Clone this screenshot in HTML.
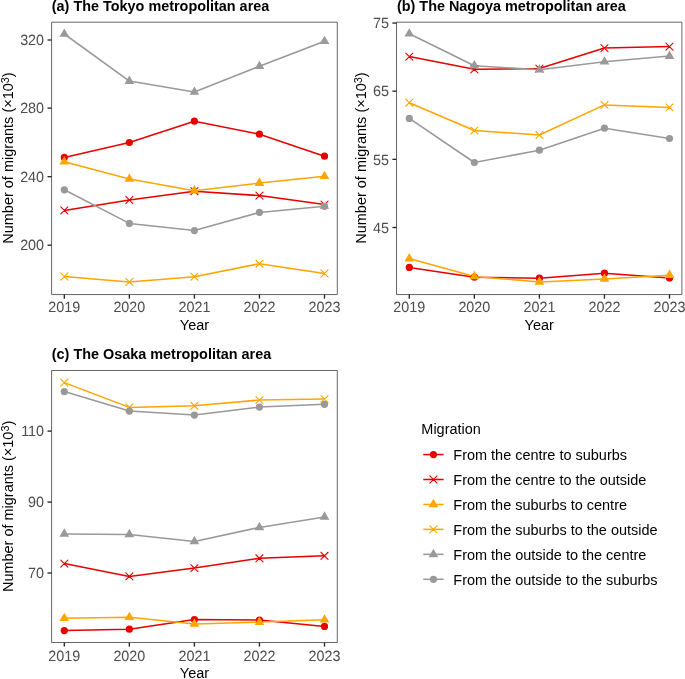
<!DOCTYPE html>
<html lang="en"><head><meta charset="utf-8"><title>Migration flows by metropolitan area</title>
<style>html,body{margin:0;padding:0;background:#fff}svg{display:block}text{font-family:"Liberation Sans",Arial,Helvetica,sans-serif}.tk{text-rendering:geometricPrecision}</style></head><body>
<svg width="685" height="679" viewBox="0 0 685 679">
<rect width="685" height="679" fill="#fff"/>
<g id="panel-a">
<polyline points="64.30,157.40 129.35,142.50 194.40,121.20 259.45,134.20 324.50,156.20" fill="none" stroke="#E60000" stroke-width="1.55" stroke-linejoin="round" stroke-linecap="butt"/>
<polyline points="64.30,210.40 129.35,200.00 194.40,191.20 259.45,195.60 324.50,204.60" fill="none" stroke="#E60000" stroke-width="1.55" stroke-linejoin="round" stroke-linecap="butt"/>
<polyline points="64.30,161.80 129.35,179.00 194.40,190.70 259.45,183.10 324.50,176.30" fill="none" stroke="#FFA500" stroke-width="1.55" stroke-linejoin="round" stroke-linecap="butt"/>
<polyline points="64.30,276.50 129.35,282.00 194.40,276.70 259.45,263.70 324.50,273.50" fill="none" stroke="#FFA500" stroke-width="1.55" stroke-linejoin="round" stroke-linecap="butt"/>
<polyline points="64.30,34.00 129.35,81.10 194.40,92.00 259.45,66.30 324.50,41.30" fill="none" stroke="#999999" stroke-width="1.55" stroke-linejoin="round" stroke-linecap="butt"/>
<polyline points="64.30,189.80 129.35,223.40 194.40,230.60 259.45,212.40 324.50,206.30" fill="none" stroke="#999999" stroke-width="1.55" stroke-linejoin="round" stroke-linecap="butt"/>
<circle cx="64.30" cy="157.40" r="3.6" fill="#E60000"/>
<circle cx="129.35" cy="142.50" r="3.6" fill="#E60000"/>
<circle cx="194.40" cy="121.20" r="3.6" fill="#E60000"/>
<circle cx="259.45" cy="134.20" r="3.6" fill="#E60000"/>
<circle cx="324.50" cy="156.20" r="3.6" fill="#E60000"/>
<path d="M60.75 206.85L67.85 213.95M60.75 213.95L67.85 206.85" stroke="#E60000" stroke-width="1.1" fill="none" stroke-linecap="round"/>
<path d="M125.80 196.45L132.90 203.55M125.80 203.55L132.90 196.45" stroke="#E60000" stroke-width="1.1" fill="none" stroke-linecap="round"/>
<path d="M190.85 187.65L197.95 194.75M190.85 194.75L197.95 187.65" stroke="#E60000" stroke-width="1.1" fill="none" stroke-linecap="round"/>
<path d="M255.90 192.05L263.00 199.15M255.90 199.15L263.00 192.05" stroke="#E60000" stroke-width="1.1" fill="none" stroke-linecap="round"/>
<path d="M320.95 201.05L328.05 208.15M320.95 208.15L328.05 201.05" stroke="#E60000" stroke-width="1.1" fill="none" stroke-linecap="round"/>
<polygon points="64.30,156.20 69.15,164.60 59.45,164.60" fill="#FFA500"/>
<polygon points="129.35,173.40 134.20,181.80 124.50,181.80" fill="#FFA500"/>
<polygon points="194.40,185.10 199.25,193.50 189.55,193.50" fill="#FFA500"/>
<polygon points="259.45,177.50 264.30,185.90 254.60,185.90" fill="#FFA500"/>
<polygon points="324.50,170.70 329.35,179.10 319.65,179.10" fill="#FFA500"/>
<path d="M60.75 272.95L67.85 280.05M60.75 280.05L67.85 272.95" stroke="#FFA500" stroke-width="1.1" fill="none" stroke-linecap="round"/>
<path d="M125.80 278.45L132.90 285.55M125.80 285.55L132.90 278.45" stroke="#FFA500" stroke-width="1.1" fill="none" stroke-linecap="round"/>
<path d="M190.85 273.15L197.95 280.25M190.85 280.25L197.95 273.15" stroke="#FFA500" stroke-width="1.1" fill="none" stroke-linecap="round"/>
<path d="M255.90 260.15L263.00 267.25M255.90 267.25L263.00 260.15" stroke="#FFA500" stroke-width="1.1" fill="none" stroke-linecap="round"/>
<path d="M320.95 269.95L328.05 277.05M320.95 277.05L328.05 269.95" stroke="#FFA500" stroke-width="1.1" fill="none" stroke-linecap="round"/>
<polygon points="64.30,28.40 69.15,36.80 59.45,36.80" fill="#999999"/>
<polygon points="129.35,75.50 134.20,83.90 124.50,83.90" fill="#999999"/>
<polygon points="194.40,86.40 199.25,94.80 189.55,94.80" fill="#999999"/>
<polygon points="259.45,60.70 264.30,69.10 254.60,69.10" fill="#999999"/>
<polygon points="324.50,35.70 329.35,44.10 319.65,44.10" fill="#999999"/>
<circle cx="64.30" cy="189.80" r="3.6" fill="#999999"/>
<circle cx="129.35" cy="223.40" r="3.6" fill="#999999"/>
<circle cx="194.40" cy="230.60" r="3.6" fill="#999999"/>
<circle cx="259.45" cy="212.40" r="3.6" fill="#999999"/>
<circle cx="324.50" cy="206.30" r="3.6" fill="#999999"/>
<rect x="51.6" y="22.2" width="285.70" height="272.35" fill="none" stroke="#333333" stroke-width="0.75" stroke-linejoin="round"/>
<line x1="47.50" x2="51.6" y1="40.0" y2="40.0" stroke="#262626" stroke-width="1.35"/>
<text transform="translate(44.10,44.85) scale(1,1.035)" class="tk" font-size="14.37" fill="#4D4D4D" text-anchor="end">320</text>
<line x1="47.50" x2="51.6" y1="108.1" y2="108.1" stroke="#262626" stroke-width="1.35"/>
<text transform="translate(44.10,112.95) scale(1,1.035)" class="tk" font-size="14.37" fill="#4D4D4D" text-anchor="end">280</text>
<line x1="47.50" x2="51.6" y1="176.65" y2="176.65" stroke="#262626" stroke-width="1.35"/>
<text transform="translate(44.10,181.50) scale(1,1.035)" class="tk" font-size="14.37" fill="#4D4D4D" text-anchor="end">240</text>
<line x1="47.50" x2="51.6" y1="245.2" y2="245.2" stroke="#262626" stroke-width="1.35"/>
<text transform="translate(44.10,250.05) scale(1,1.035)" class="tk" font-size="14.37" fill="#4D4D4D" text-anchor="end">200</text>
<line x1="64.30" x2="64.30" y1="294.55" y2="298.65" stroke="#262626" stroke-width="1.35"/>
<text transform="translate(64.30,312.45) scale(1,1.035)" class="tk" font-size="14.37" fill="#4D4D4D" text-anchor="middle">2019</text>
<line x1="129.35" x2="129.35" y1="294.55" y2="298.65" stroke="#262626" stroke-width="1.35"/>
<text transform="translate(129.35,312.45) scale(1,1.035)" class="tk" font-size="14.37" fill="#4D4D4D" text-anchor="middle">2020</text>
<line x1="194.40" x2="194.40" y1="294.55" y2="298.65" stroke="#262626" stroke-width="1.35"/>
<text transform="translate(194.40,312.45) scale(1,1.035)" class="tk" font-size="14.37" fill="#4D4D4D" text-anchor="middle">2021</text>
<line x1="259.45" x2="259.45" y1="294.55" y2="298.65" stroke="#262626" stroke-width="1.35"/>
<text transform="translate(259.45,312.45) scale(1,1.035)" class="tk" font-size="14.37" fill="#4D4D4D" text-anchor="middle">2022</text>
<line x1="324.50" x2="324.50" y1="294.55" y2="298.65" stroke="#262626" stroke-width="1.35"/>
<text transform="translate(324.50,312.45) scale(1,1.035)" class="tk" font-size="14.37" fill="#4D4D4D" text-anchor="middle">2023</text>
<text x="194.45" y="329.95" font-size="14.47" fill="#000" text-anchor="middle">Year</text>
<text transform="translate(13.10,158.05) rotate(-90)" font-size="14.47" fill="#000" text-anchor="middle">Number of migrants (×10<tspan font-size="10.8" dy="-4.3">3</tspan><tspan dy="4.3">)</tspan></text>
<text x="51.8" y="11.0" font-size="14.41" font-weight="bold" fill="#000">(a) The Tokyo metropolitan area</text>
</g>
<g id="panel-b">
<polyline points="409.30,267.40 474.35,277.20 539.40,278.20 604.45,273.20 669.50,277.90" fill="none" stroke="#E60000" stroke-width="1.55" stroke-linejoin="round" stroke-linecap="butt"/>
<polyline points="409.30,56.60 474.35,69.30 539.40,68.60 604.45,48.10 669.50,46.60" fill="none" stroke="#E60000" stroke-width="1.55" stroke-linejoin="round" stroke-linecap="butt"/>
<polyline points="409.30,258.60 474.35,276.40 539.40,281.90 604.45,278.90 669.50,275.20" fill="none" stroke="#FFA500" stroke-width="1.55" stroke-linejoin="round" stroke-linecap="butt"/>
<polyline points="409.30,102.70 474.35,130.50 539.40,135.00 604.45,104.90 669.50,107.40" fill="none" stroke="#FFA500" stroke-width="1.55" stroke-linejoin="round" stroke-linecap="butt"/>
<polyline points="409.30,33.80 474.35,65.70 539.40,69.80 604.45,61.80 669.50,56.10" fill="none" stroke="#999999" stroke-width="1.55" stroke-linejoin="round" stroke-linecap="butt"/>
<polyline points="409.30,118.40 474.35,162.50 539.40,150.20 604.45,128.20 669.50,138.50" fill="none" stroke="#999999" stroke-width="1.55" stroke-linejoin="round" stroke-linecap="butt"/>
<circle cx="409.30" cy="267.40" r="3.6" fill="#E60000"/>
<circle cx="474.35" cy="277.20" r="3.6" fill="#E60000"/>
<circle cx="539.40" cy="278.20" r="3.6" fill="#E60000"/>
<circle cx="604.45" cy="273.20" r="3.6" fill="#E60000"/>
<circle cx="669.50" cy="277.90" r="3.6" fill="#E60000"/>
<path d="M405.75 53.05L412.85 60.15M405.75 60.15L412.85 53.05" stroke="#E60000" stroke-width="1.1" fill="none" stroke-linecap="round"/>
<path d="M470.80 65.75L477.90 72.85M470.80 72.85L477.90 65.75" stroke="#E60000" stroke-width="1.1" fill="none" stroke-linecap="round"/>
<path d="M535.85 65.05L542.95 72.15M535.85 72.15L542.95 65.05" stroke="#E60000" stroke-width="1.1" fill="none" stroke-linecap="round"/>
<path d="M600.90 44.55L608.00 51.65M600.90 51.65L608.00 44.55" stroke="#E60000" stroke-width="1.1" fill="none" stroke-linecap="round"/>
<path d="M665.95 43.05L673.05 50.15M665.95 50.15L673.05 43.05" stroke="#E60000" stroke-width="1.1" fill="none" stroke-linecap="round"/>
<polygon points="409.30,253.00 414.15,261.40 404.45,261.40" fill="#FFA500"/>
<polygon points="474.35,270.80 479.20,279.20 469.50,279.20" fill="#FFA500"/>
<polygon points="539.40,276.30 544.25,284.70 534.55,284.70" fill="#FFA500"/>
<polygon points="604.45,273.30 609.30,281.70 599.60,281.70" fill="#FFA500"/>
<polygon points="669.50,269.60 674.35,278.00 664.65,278.00" fill="#FFA500"/>
<path d="M405.75 99.15L412.85 106.25M405.75 106.25L412.85 99.15" stroke="#FFA500" stroke-width="1.1" fill="none" stroke-linecap="round"/>
<path d="M470.80 126.95L477.90 134.05M470.80 134.05L477.90 126.95" stroke="#FFA500" stroke-width="1.1" fill="none" stroke-linecap="round"/>
<path d="M535.85 131.45L542.95 138.55M535.85 138.55L542.95 131.45" stroke="#FFA500" stroke-width="1.1" fill="none" stroke-linecap="round"/>
<path d="M600.90 101.35L608.00 108.45M600.90 108.45L608.00 101.35" stroke="#FFA500" stroke-width="1.1" fill="none" stroke-linecap="round"/>
<path d="M665.95 103.85L673.05 110.95M665.95 110.95L673.05 103.85" stroke="#FFA500" stroke-width="1.1" fill="none" stroke-linecap="round"/>
<polygon points="409.30,28.20 414.15,36.60 404.45,36.60" fill="#999999"/>
<polygon points="474.35,60.10 479.20,68.50 469.50,68.50" fill="#999999"/>
<polygon points="539.40,64.20 544.25,72.60 534.55,72.60" fill="#999999"/>
<polygon points="604.45,56.20 609.30,64.60 599.60,64.60" fill="#999999"/>
<polygon points="669.50,50.50 674.35,58.90 664.65,58.90" fill="#999999"/>
<circle cx="409.30" cy="118.40" r="3.6" fill="#999999"/>
<circle cx="474.35" cy="162.50" r="3.6" fill="#999999"/>
<circle cx="539.40" cy="150.20" r="3.6" fill="#999999"/>
<circle cx="604.45" cy="128.20" r="3.6" fill="#999999"/>
<circle cx="669.50" cy="138.50" r="3.6" fill="#999999"/>
<rect x="396.5" y="22.2" width="285.40" height="272.35" fill="none" stroke="#333333" stroke-width="0.75" stroke-linejoin="round"/>
<line x1="392.40" x2="396.5" y1="23.05" y2="23.05" stroke="#262626" stroke-width="1.35"/>
<text transform="translate(389.10,28.20) scale(1,1.035)" class="tk" font-size="14.37" fill="#4D4D4D" text-anchor="end">75</text>
<line x1="392.40" x2="396.5" y1="91.15" y2="91.15" stroke="#262626" stroke-width="1.35"/>
<text transform="translate(389.10,96.30) scale(1,1.035)" class="tk" font-size="14.37" fill="#4D4D4D" text-anchor="end">65</text>
<line x1="392.40" x2="396.5" y1="159.35" y2="159.35" stroke="#262626" stroke-width="1.35"/>
<text transform="translate(389.10,164.50) scale(1,1.035)" class="tk" font-size="14.37" fill="#4D4D4D" text-anchor="end">55</text>
<line x1="392.40" x2="396.5" y1="227.5" y2="227.5" stroke="#262626" stroke-width="1.35"/>
<text transform="translate(389.10,232.65) scale(1,1.035)" class="tk" font-size="14.37" fill="#4D4D4D" text-anchor="end">45</text>
<line x1="409.30" x2="409.30" y1="294.55" y2="298.65" stroke="#262626" stroke-width="1.35"/>
<text transform="translate(409.30,312.45) scale(1,1.035)" class="tk" font-size="14.37" fill="#4D4D4D" text-anchor="middle">2019</text>
<line x1="474.35" x2="474.35" y1="294.55" y2="298.65" stroke="#262626" stroke-width="1.35"/>
<text transform="translate(474.35,312.45) scale(1,1.035)" class="tk" font-size="14.37" fill="#4D4D4D" text-anchor="middle">2020</text>
<line x1="539.40" x2="539.40" y1="294.55" y2="298.65" stroke="#262626" stroke-width="1.35"/>
<text transform="translate(539.40,312.45) scale(1,1.035)" class="tk" font-size="14.37" fill="#4D4D4D" text-anchor="middle">2021</text>
<line x1="604.45" x2="604.45" y1="294.55" y2="298.65" stroke="#262626" stroke-width="1.35"/>
<text transform="translate(604.45,312.45) scale(1,1.035)" class="tk" font-size="14.37" fill="#4D4D4D" text-anchor="middle">2022</text>
<line x1="669.50" x2="669.50" y1="294.55" y2="298.65" stroke="#262626" stroke-width="1.35"/>
<text transform="translate(669.50,312.45) scale(1,1.035)" class="tk" font-size="14.37" fill="#4D4D4D" text-anchor="middle">2023</text>
<text x="539.20" y="329.95" font-size="14.47" fill="#000" text-anchor="middle">Year</text>
<text transform="translate(366.30,158.05) rotate(-90)" font-size="14.47" fill="#000" text-anchor="middle">Number of migrants (×10<tspan font-size="10.8" dy="-4.3">3</tspan><tspan dy="4.3">)</tspan></text>
<text x="396.95" y="11.0" font-size="14.41" font-weight="bold" fill="#000">(b) The Nagoya metropolitan area</text>
</g>
<g id="panel-c">
<polyline points="64.30,630.60 129.35,629.20 194.40,619.50 259.45,620.00 324.50,626.40" fill="none" stroke="#E60000" stroke-width="1.55" stroke-linejoin="round" stroke-linecap="butt"/>
<polyline points="64.30,563.60 129.35,576.40 194.40,568.10 259.45,558.30 324.50,555.80" fill="none" stroke="#E60000" stroke-width="1.55" stroke-linejoin="round" stroke-linecap="butt"/>
<polyline points="64.30,618.30 129.35,617.30 194.40,624.00 259.45,622.10 324.50,619.80" fill="none" stroke="#FFA500" stroke-width="1.55" stroke-linejoin="round" stroke-linecap="butt"/>
<polyline points="64.30,382.60 129.35,407.40 194.40,405.80 259.45,400.10 324.50,399.10" fill="none" stroke="#FFA500" stroke-width="1.55" stroke-linejoin="round" stroke-linecap="butt"/>
<polyline points="64.30,533.90 129.35,534.40 194.40,541.40 259.45,527.40 324.50,516.90" fill="none" stroke="#999999" stroke-width="1.55" stroke-linejoin="round" stroke-linecap="butt"/>
<polyline points="64.30,391.60 129.35,411.10 194.40,415.10 259.45,407.10 324.50,404.30" fill="none" stroke="#999999" stroke-width="1.55" stroke-linejoin="round" stroke-linecap="butt"/>
<circle cx="64.30" cy="630.60" r="3.6" fill="#E60000"/>
<circle cx="129.35" cy="629.20" r="3.6" fill="#E60000"/>
<circle cx="194.40" cy="619.50" r="3.6" fill="#E60000"/>
<circle cx="259.45" cy="620.00" r="3.6" fill="#E60000"/>
<circle cx="324.50" cy="626.40" r="3.6" fill="#E60000"/>
<path d="M60.75 560.05L67.85 567.15M60.75 567.15L67.85 560.05" stroke="#E60000" stroke-width="1.1" fill="none" stroke-linecap="round"/>
<path d="M125.80 572.85L132.90 579.95M125.80 579.95L132.90 572.85" stroke="#E60000" stroke-width="1.1" fill="none" stroke-linecap="round"/>
<path d="M190.85 564.55L197.95 571.65M190.85 571.65L197.95 564.55" stroke="#E60000" stroke-width="1.1" fill="none" stroke-linecap="round"/>
<path d="M255.90 554.75L263.00 561.85M255.90 561.85L263.00 554.75" stroke="#E60000" stroke-width="1.1" fill="none" stroke-linecap="round"/>
<path d="M320.95 552.25L328.05 559.35M320.95 559.35L328.05 552.25" stroke="#E60000" stroke-width="1.1" fill="none" stroke-linecap="round"/>
<polygon points="64.30,612.70 69.15,621.10 59.45,621.10" fill="#FFA500"/>
<polygon points="129.35,611.70 134.20,620.10 124.50,620.10" fill="#FFA500"/>
<polygon points="194.40,618.40 199.25,626.80 189.55,626.80" fill="#FFA500"/>
<polygon points="259.45,616.50 264.30,624.90 254.60,624.90" fill="#FFA500"/>
<polygon points="324.50,614.20 329.35,622.60 319.65,622.60" fill="#FFA500"/>
<path d="M60.75 379.05L67.85 386.15M60.75 386.15L67.85 379.05" stroke="#FFA500" stroke-width="1.1" fill="none" stroke-linecap="round"/>
<path d="M125.80 403.85L132.90 410.95M125.80 410.95L132.90 403.85" stroke="#FFA500" stroke-width="1.1" fill="none" stroke-linecap="round"/>
<path d="M190.85 402.25L197.95 409.35M190.85 409.35L197.95 402.25" stroke="#FFA500" stroke-width="1.1" fill="none" stroke-linecap="round"/>
<path d="M255.90 396.55L263.00 403.65M255.90 403.65L263.00 396.55" stroke="#FFA500" stroke-width="1.1" fill="none" stroke-linecap="round"/>
<path d="M320.95 395.55L328.05 402.65M320.95 402.65L328.05 395.55" stroke="#FFA500" stroke-width="1.1" fill="none" stroke-linecap="round"/>
<polygon points="64.30,528.30 69.15,536.70 59.45,536.70" fill="#999999"/>
<polygon points="129.35,528.80 134.20,537.20 124.50,537.20" fill="#999999"/>
<polygon points="194.40,535.80 199.25,544.20 189.55,544.20" fill="#999999"/>
<polygon points="259.45,521.80 264.30,530.20 254.60,530.20" fill="#999999"/>
<polygon points="324.50,511.30 329.35,519.70 319.65,519.70" fill="#999999"/>
<circle cx="64.30" cy="391.60" r="3.6" fill="#999999"/>
<circle cx="129.35" cy="411.10" r="3.6" fill="#999999"/>
<circle cx="194.40" cy="415.10" r="3.6" fill="#999999"/>
<circle cx="259.45" cy="407.10" r="3.6" fill="#999999"/>
<circle cx="324.50" cy="404.30" r="3.6" fill="#999999"/>
<rect x="51.6" y="370.5" width="285.70" height="272.00" fill="none" stroke="#333333" stroke-width="0.75" stroke-linejoin="round"/>
<line x1="47.50" x2="51.6" y1="431.1" y2="431.1" stroke="#262626" stroke-width="1.35"/>
<text transform="translate(44.10,436.30) scale(1,1.035)" class="tk" font-size="14.37" fill="#4D4D4D" text-anchor="end">110</text>
<line x1="47.50" x2="51.6" y1="502.05" y2="502.05" stroke="#262626" stroke-width="1.35"/>
<text transform="translate(44.10,507.25) scale(1,1.035)" class="tk" font-size="14.37" fill="#4D4D4D" text-anchor="end">90</text>
<line x1="47.50" x2="51.6" y1="573.0" y2="573.0" stroke="#262626" stroke-width="1.35"/>
<text transform="translate(44.10,578.20) scale(1,1.035)" class="tk" font-size="14.37" fill="#4D4D4D" text-anchor="end">70</text>
<line x1="64.30" x2="64.30" y1="642.5" y2="646.60" stroke="#262626" stroke-width="1.35"/>
<text transform="translate(64.30,660.85) scale(1,1.035)" class="tk" font-size="14.37" fill="#4D4D4D" text-anchor="middle">2019</text>
<line x1="129.35" x2="129.35" y1="642.5" y2="646.60" stroke="#262626" stroke-width="1.35"/>
<text transform="translate(129.35,660.85) scale(1,1.035)" class="tk" font-size="14.37" fill="#4D4D4D" text-anchor="middle">2020</text>
<line x1="194.40" x2="194.40" y1="642.5" y2="646.60" stroke="#262626" stroke-width="1.35"/>
<text transform="translate(194.40,660.85) scale(1,1.035)" class="tk" font-size="14.37" fill="#4D4D4D" text-anchor="middle">2021</text>
<line x1="259.45" x2="259.45" y1="642.5" y2="646.60" stroke="#262626" stroke-width="1.35"/>
<text transform="translate(259.45,660.85) scale(1,1.035)" class="tk" font-size="14.37" fill="#4D4D4D" text-anchor="middle">2022</text>
<line x1="324.50" x2="324.50" y1="642.5" y2="646.60" stroke="#262626" stroke-width="1.35"/>
<text transform="translate(324.50,660.85) scale(1,1.035)" class="tk" font-size="14.37" fill="#4D4D4D" text-anchor="middle">2023</text>
<text x="194.45" y="678.35" font-size="14.47" fill="#000" text-anchor="middle">Year</text>
<text transform="translate(13.10,506.40) rotate(-90)" font-size="14.47" fill="#000" text-anchor="middle">Number of migrants (×10<tspan font-size="10.8" dy="-4.3">3</tspan><tspan dy="4.3">)</tspan></text>
<text x="51.8" y="359.0" font-size="14.41" font-weight="bold" fill="#000">(c) The Osaka metropolitan area</text>
</g>
<g id="legend">
<text x="421.35" y="433.6" font-size="14.47" fill="#000">Migration</text>
<line x1="423.3" x2="443.6" y1="454.55" y2="454.55" stroke="#E60000" stroke-width="1.55"/>
<circle cx="433.45" cy="454.55" r="3.6" fill="#E60000"/>
<text x="453.3" y="459.80" font-size="14.47" fill="#000">From the centre to suburbs</text>
<line x1="423.3" x2="443.6" y1="479.50" y2="479.50" stroke="#E60000" stroke-width="1.55"/>
<path d="M429.90 475.95L437.00 483.05M429.90 483.05L437.00 475.95" stroke="#E60000" stroke-width="1.1" fill="none" stroke-linecap="round"/>
<text x="453.3" y="484.75" font-size="14.47" fill="#000">From the centre to the outside</text>
<line x1="423.3" x2="443.6" y1="504.45" y2="504.45" stroke="#FFA500" stroke-width="1.55"/>
<polygon points="433.45,498.85 438.30,507.25 428.60,507.25" fill="#FFA500"/>
<text x="453.3" y="509.70" font-size="14.47" fill="#000">From the suburbs to centre</text>
<line x1="423.3" x2="443.6" y1="529.40" y2="529.40" stroke="#FFA500" stroke-width="1.55"/>
<path d="M429.90 525.85L437.00 532.95M429.90 532.95L437.00 525.85" stroke="#FFA500" stroke-width="1.1" fill="none" stroke-linecap="round"/>
<text x="453.3" y="534.65" font-size="14.47" fill="#000">From the suburbs to the outside</text>
<line x1="423.3" x2="443.6" y1="554.35" y2="554.35" stroke="#999999" stroke-width="1.55"/>
<polygon points="433.45,548.75 438.30,557.15 428.60,557.15" fill="#999999"/>
<text x="453.3" y="559.60" font-size="14.47" fill="#000">From the outside to the centre</text>
<line x1="423.3" x2="443.6" y1="579.30" y2="579.30" stroke="#999999" stroke-width="1.55"/>
<circle cx="433.45" cy="579.30" r="3.6" fill="#999999"/>
<text x="453.3" y="584.55" font-size="14.47" fill="#000">From the outside to the suburbs</text>
</g>
</svg></body></html>
